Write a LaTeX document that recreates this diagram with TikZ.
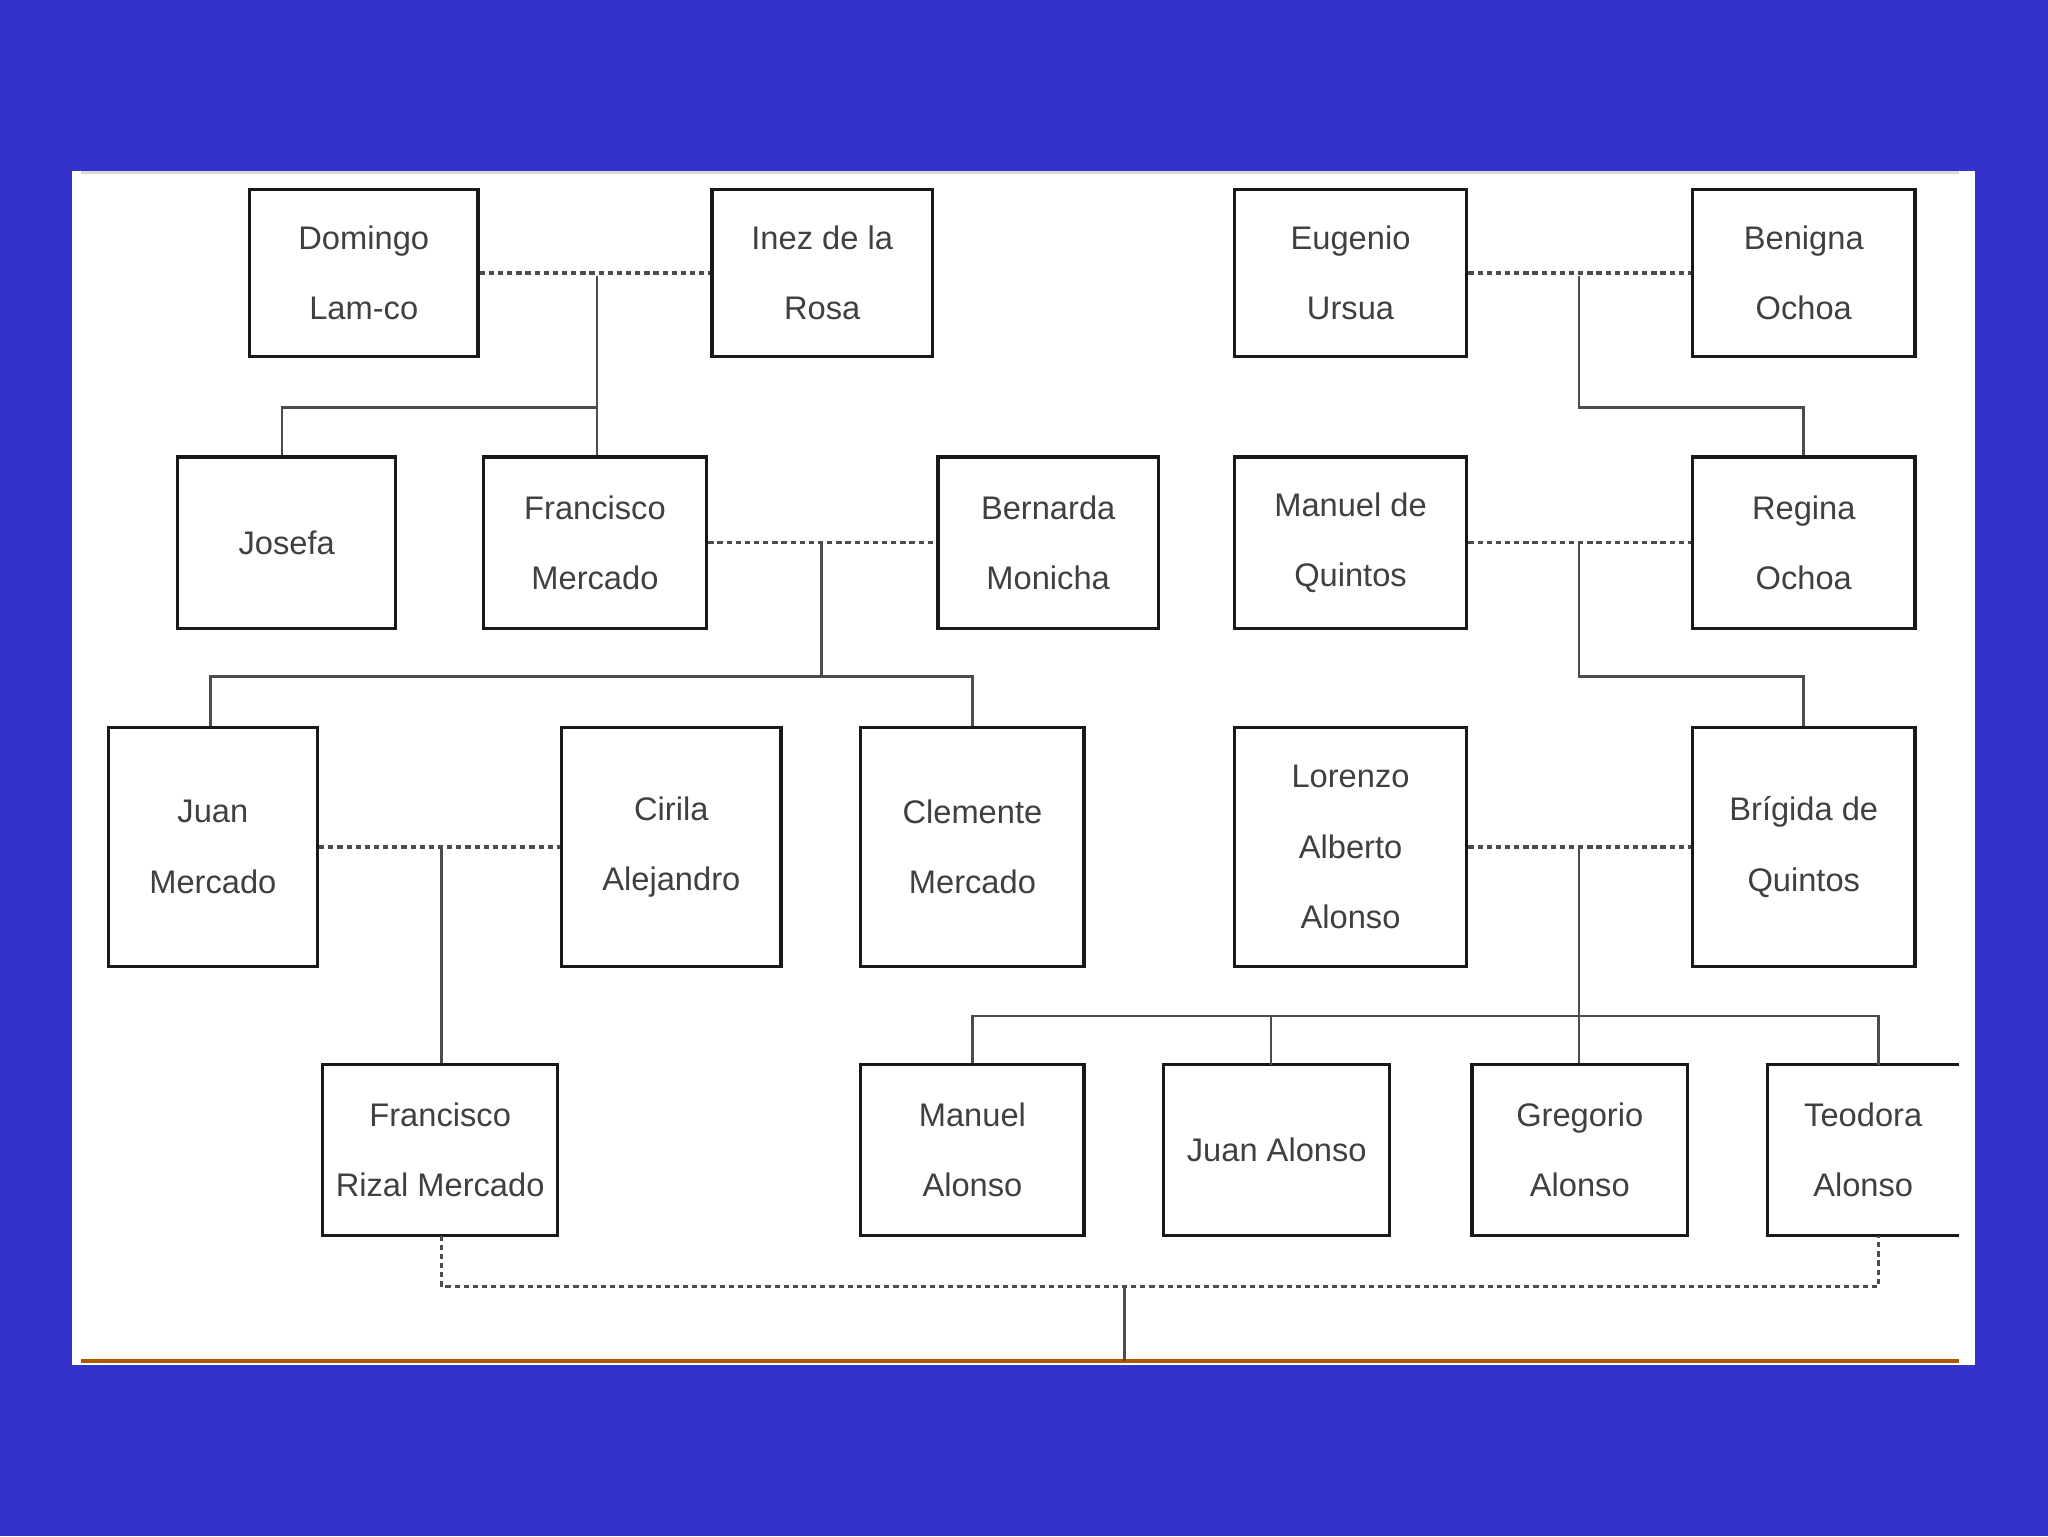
\documentclass[tikz,border=0pt]{standalone}
\usepackage{fontspec}
\setmainfont{Liberation Sans}
\begin{document}
\begin{tikzpicture}[x=1pt,y=-1pt,
  box/.style={draw=black!90,line width=2.6pt,fill=white,inner sep=0pt,align=center,
     font=\fontsize{25}{54}\selectfont,text=black!75},
  ln/.style={draw=black!70,line width=2pt},
  dl/.style={draw=black!70,line width=2.4pt,dash pattern=on 4pt off 3pt}]
\fill[fill={rgb,255:red,51;green,51;blue,204}] (0,0) rectangle (1568,1176);
\useasboundingbox (0,0) rectangle (1568,1176);
\fill[white] (55,131) rectangle (1512,1045);
\draw[black!15,line width=2pt] (62,132) -- (1500,132);
\draw[orange!70!black,line width=3pt] (62,1042) -- (1500,1042);
\newcommand\bx[6]{\node[box,minimum width={#4-#2},minimum height={#5-#3}] (#1) at ({(#2+#4)/2},{(#3+#5)/2}) {#6};}
\bx{dom}{191}{145}{366}{273}{Domingo\\Lam-co}
\bx{inez}{545}{145}{714}{273}{Inez de la\\Rosa}
\bx{eug}{945}{145}{1123}{273}{Eugenio\\Ursua}
\bx{ben}{1296}{145}{1466}{273}{Benigna\\Ochoa}
\bx{jos}{136}{350}{303}{481}{Josefa}
\bx{fra}{370}{350}{541}{481}{Francisco\\Mercado}
\bx{ber}{718}{350}{887}{481}{Bernarda\\Monicha}
\bx{man}{945}{350}{1123}{481}{Manuel de\\Quintos}
\bx{reg}{1296}{350}{1466}{481}{Regina\\Ochoa}
\bx{jua}{83}{557}{243}{740}{Juan\\Mercado}
\bx{cir}{430}{557}{598}{740}{Cirila\\Alejandro}
\bx{cle}{659}{557}{830}{740}{Clemente\\Mercado}
\bx{lor}{945}{557}{1123}{740}{Lorenzo\\Alberto\\Alonso}
\bx{bri}{1296}{557}{1466}{740}{Brígida de\\Quintos}
\bx{riz}{247}{815}{427}{946}{Francisco\\Rizal Mercado}
\bx{mal}{659}{815}{830}{946}{Manuel\\Alonso}
\bx{jal}{891}{815}{1064}{946}{Juan Alonso}
\bx{gre}{1127}{815}{1292}{946}{Gregorio\\Alonso}
\node[inner sep=0pt,minimum width=147,minimum height=131,align=center,
  font=\fontsize{25}{54}\selectfont,text=black!75] (teo) at (1426.5,880.5) {Teodora\\Alonso};
\draw[black!90,line width=2.6pt] (1500,815) -- (1353,815) -- (1353,946) -- (1500,946);
% couples
\draw[dl] (dom.east) -- (inez.west);
\draw[dl] (eug.east) -- (ben.west);
\draw[dl] (fra.east) -- (ber.west);
\draw[dl] (man.east) -- (reg.west);
\draw[dl] (jua.east) -- (cir.west);
\draw[dl] (lor.east) -- (bri.west);
% children
\coordinate (c1) at (457,211); \coordinate (h1) at (457,312);
\draw[ln] (c1) -- (h1) -- (h1 |- fra.north);
\draw[ln] (h1) -| (jos.north west -| 216,0);
\coordinate (c2) at (1209,211);
\draw[ln] (c2) |- (1381,312) -- (reg.north);
\coordinate (c3) at (629,415);
\draw[ln] (c3) |- (161,518) -- (jua.north -| 161,0);
\draw[ln] (c3 |- 0,518) -| (cle.north);
\coordinate (c4) at (1209,415);
\draw[ln] (c4) |- (1381,518) -- (bri.north);
\coordinate (c5) at (338,650);
\draw[ln] (c5) -- (riz.north -| c5);
\coordinate (c6) at (1209,650);
\draw[ln] (c6) -- (gre.north -| c6);
\draw[ln] (mal.north) |- (1438,778) -- (1438,815);
\draw[ln] (973,778) -- (973,815);
% bottom
\coordinate (b1) at (338,946); \coordinate (b2) at (1438,946);
\draw[dl] (b1) -- (338,985) -- (1438,985) -- (b2);
\draw[ln] (861,985) -- (861,1042);
\end{tikzpicture}
\end{document}
